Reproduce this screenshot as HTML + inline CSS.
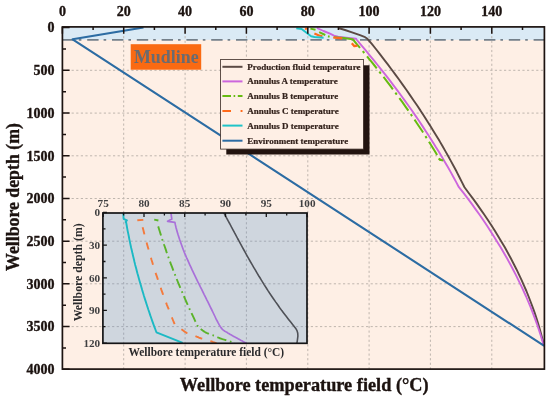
<!DOCTYPE html>
<html lang="en"><head><meta charset="utf-8"><title>Wellbore temperature field</title>
<style>
html,body{margin:0;padding:0;background:#fff;}
body{width:550px;height:398px;overflow:hidden;position:relative;}
svg text{font-family:"Liberation Serif","Times New Roman",serif;}
svg text.b{font-weight:bold;}
svg text.h{stroke-width:0.35px;stroke-linejoin:round;}
svg text.h2{stroke-width:0.2px;stroke-linejoin:round;}
</style></head><body>
<svg width="550" height="398" viewBox="0 0 550 398" style="display:block;position:absolute;left:0;top:0">
<defs><clipPath id="cm"><rect x="62.4" y="26.9" width="482.0" height="342.2"/></clipPath>
<clipPath id="ci"><rect x="102.9" y="213.0" width="204.1" height="130.3"/></clipPath></defs>
<rect width="550" height="398" fill="#ffffff"/>
<rect x="62.4" y="26.9" width="482.0" height="342.2" fill="#feefe5"/>
<rect x="62.4" y="26.9" width="482.0" height="12.9" fill="#daeaf5"/>
<path d="M123.7 26.9V369.2M185.1 26.9V369.2M246.4 26.9V369.2M307.8 26.9V369.2M369.1 26.9V369.2M430.4 26.9V369.2M491.8 26.9V369.2M62.4 70.3H544.4M62.4 113.1H544.4M62.4 155.8H544.4M62.4 198.5H544.4M62.4 241.2H544.4M62.4 283.8H544.4M62.4 326.6H544.4" fill="none" stroke="#bfb6ae" stroke-width="1" stroke-dasharray="2.2 2.4"/>
<path d="M62.4 39.9H544.4" fill="none" stroke="#74808a" stroke-width="1.7" stroke-dasharray="11.4 5 2.6 5.8"/>
<g clip-path="url(#cm)" fill="none" stroke-linejoin="round">
<polyline points="338.3,28.0 345.0,30.0 352.0,32.3 360.0,35.2 365.1,37.2 367.4,38.8 371.8,43.9 375.9,49.0 379.9,54.2 383.9,59.3 387.8,64.4 391.6,69.5 395.4,74.6 399.2,79.7 402.8,84.9 406.5,90.0 410.0,95.1 413.5,100.2 417.0,105.3 420.4,110.4 423.7,115.6 427.0,120.7 430.2,125.8 433.4,130.9 436.5,136.0 439.6,141.1 442.6,146.3 445.5,151.4 448.4,156.5 451.2,161.6 454.0,166.7 456.7,171.8 459.3,177.0 461.9,182.1 464.5,187.2 468.5,192.7 472.6,198.1 476.6,203.6 480.4,209.1 484.2,214.5 487.9,220.0 491.5,225.5 495.0,230.9 498.3,236.4 501.6,241.9 504.8,247.3 507.8,252.8 510.8,258.3 513.6,263.7 516.4,269.2 519.0,274.6 521.6,280.1 524.0,285.6 526.4,291.0 528.6,296.5 530.7,302.0 532.7,307.4 534.7,312.9 536.5,318.4 538.2,323.8 539.8,329.3 541.3,334.8 542.7,340.2 544.0,345.7" stroke="#5b4a44" stroke-width="1.9"/>
<polyline points="316.9,28.0 323.5,31.0 330.0,33.7 334.0,35.6 338.0,36.6 346.0,37.6 356.1,38.7 356.5,39.5 360.8,44.6 365.1,49.7 369.3,54.8 373.5,59.9 377.6,65.0 381.7,70.1 385.7,75.2 389.6,80.2 393.5,85.3 397.3,90.4 401.1,95.5 404.8,100.6 408.5,105.7 412.1,110.8 415.6,115.9 419.1,121.0 422.5,126.1 425.8,131.2 429.1,136.3 432.4,141.4 435.5,146.5 438.7,151.5 441.7,156.6 444.7,161.7 447.7,166.8 450.6,171.9 453.4,177.0 456.2,182.1 458.9,187.2 463.3,192.7 467.5,198.1 471.6,203.6 475.5,209.1 479.4,214.5 483.2,220.0 486.9,225.5 490.4,230.9 493.9,236.4 497.3,241.9 500.6,247.3 503.8,252.8 507.0,258.3 510.0,263.7 512.9,269.2 515.7,274.6 518.4,280.1 521.1,285.6 523.6,291.0 526.1,296.5 528.4,302.0 530.7,307.4 532.8,312.9 534.9,318.4 536.9,323.8 538.7,329.3 540.5,334.8 542.2,340.2 543.8,345.7" stroke="#cc66dd" stroke-width="1.9"/>
<polyline points="310.4,28.6 315.5,29.8" stroke="#66bb11" stroke-width="2.0"/>
<polyline points="319.2,32.2 325.3,35.0" stroke="#66bb11" stroke-width="2.0"/>
<polyline points="328.0,36.2 329.6,36.7" stroke="#66bb11" stroke-width="2.0"/>
<polyline points="334.0,37.2 344.0,38.0 352.3,39.2 354.0,40.2" stroke="#66bb11" stroke-width="2.0"/>
<polyline points="438.9,158.4 439.8,159.8 443.3,160.5" stroke="#66bb11" stroke-width="2.0"/>
<polyline points="354.0,40.0 354.2,41.0 357.6,45.1 361.1,49.2 364.5,53.2 367.8,57.3 371.2,61.4 374.5,65.5 377.7,69.6 380.9,73.7 384.1,77.7 387.3,81.8 390.4,85.9 393.4,90.0 396.4,94.1 399.4,98.2 402.4,102.2 405.3,106.3 408.2,110.4 411.0,114.5 413.8,118.6 416.6,122.7 419.3,126.7 422.0,130.8 424.6,134.9 427.3,139.0 429.8,143.1 432.4,147.2 434.9,151.2 437.3,155.3 439.8,159.4 443.2,160.4" stroke="#66bb11" stroke-width="2.0" stroke-dasharray="15.5 4.2 2.4 4.3" stroke-dashoffset="5.4"/>
<polyline points="305.2,28.2 306.8,29.2" stroke="#ff6a1a" stroke-width="2.2"/>
<polyline points="314.4,33.5 318.5,35.2 322.4,36.3" stroke="#ff6a1a" stroke-width="2.2"/>
<polyline points="333.2,37.5 342.2,38.4" stroke="#ff6a1a" stroke-width="2.2"/>
<polyline points="351.8,43.2 354.4,46.2 357.4,45.7" stroke="#ff6a1a" stroke-width="2.2"/>
<polyline points="296.3,28.3 301.6,29.0 311.1,36.3 314.5,37.0 323.6,37.7" stroke="#1fc4c8" stroke-width="1.9"/>
<polyline points="143.5,27.5 72.6,39.3 544.2,345.9" stroke="#2c6ca3" stroke-width="2.1"/>
</g>
<path d="M62.4 26.9v6.8M93.1 26.9v3.2M123.7 26.9v6.8M154.4 26.9v3.2M185.1 26.9v6.8M215.8 26.9v3.2M246.4 26.9v6.8M277.1 26.9v3.2M307.8 26.9v6.8M338.4 26.9v3.2M369.1 26.9v6.8M399.8 26.9v3.2M430.4 26.9v6.8M461.1 26.9v3.2M491.8 26.9v6.8M522.5 26.9v3.2M62.4 27.6h7.2M62.4 49.0h3.6M62.4 70.3h7.2M62.4 91.7h3.6M62.4 113.1h7.2M62.4 134.4h3.6M62.4 155.8h7.2M62.4 177.1h3.6M62.4 198.5h7.2M62.4 219.8h3.6M62.4 241.2h7.2M62.4 262.5h3.6M62.4 283.8h7.2M62.4 305.2h3.6M62.4 326.6h7.2M62.4 347.9h3.6M62.4 369.2h7.2" fill="none" stroke="#1c1310" stroke-width="1.5"/>
<rect x="62.4" y="26.9" width="482.0" height="342.2" fill="none" stroke="#1c1310" stroke-width="1.7"/>
<rect x="130.7" y="44.2" width="70.5" height="25.5" fill="#fa6a12"/>
<text x="166.3" y="62.8" text-anchor="middle" font-size="17.9" fill="#6a6b70" class="b">Mudline</text>
<rect x="226.3" y="65.3" width="143.2" height="89.2" fill="#22130f"/>
<rect x="220.6" y="59.4" width="142.8" height="89.7" fill="#feefe5" stroke="#3a2a24" stroke-width="0.8"/>
<path d="M222.4 66.8H242.5" stroke="#5b4a44" stroke-width="2.0" fill="none"/>
<text x="247.3" y="69.8" font-size="9.0" fill="#33221c" stroke="#33221c" class="b h2">Production fluid temperature</text>
<path d="M222.4 81.4H242.5" stroke="#cc66dd" stroke-width="2.0" fill="none"/>
<text x="247.3" y="84.4" font-size="9.0" fill="#33221c" stroke="#33221c" class="b h2">Annulus A temperature</text>
<path d="M222.4 96.1H242.5" stroke="#66bb11" stroke-width="2.0" fill="none" stroke-dasharray="8.6 2.6 1.6 2.6"/>
<text x="247.3" y="99.1" font-size="9.0" fill="#33221c" stroke="#33221c" class="b h2">Annulus B temperature</text>
<path d="M222.4 110.9H242.5" stroke="#ff6a1a" stroke-width="2.0" fill="none" stroke-dasharray="8.6 9.6"/>
<text x="247.3" y="113.9" font-size="9.0" fill="#33221c" stroke="#33221c" class="b h2">Annulus C temperature</text>
<path d="M222.4 125.6H242.5" stroke="#1fc4c8" stroke-width="2.0" fill="none"/>
<text x="247.3" y="128.6" font-size="9.0" fill="#33221c" stroke="#33221c" class="b h2">Annulus D temperature</text>
<path d="M222.4 140.7H242.5" stroke="#2c6ca3" stroke-width="2.0" fill="none"/>
<text x="247.3" y="143.7" font-size="9.0" fill="#33221c" stroke="#33221c" class="b h2">Environment temperature</text>
<text x="62.4" y="15.5" text-anchor="middle" font-size="14" fill="#1c1310" stroke="#1c1310" class="b h">0</text>
<text x="123.7" y="15.5" text-anchor="middle" font-size="14" fill="#1c1310" stroke="#1c1310" class="b h">20</text>
<text x="185.1" y="15.5" text-anchor="middle" font-size="14" fill="#1c1310" stroke="#1c1310" class="b h">40</text>
<text x="246.4" y="15.5" text-anchor="middle" font-size="14" fill="#1c1310" stroke="#1c1310" class="b h">60</text>
<text x="307.8" y="15.5" text-anchor="middle" font-size="14" fill="#1c1310" stroke="#1c1310" class="b h">80</text>
<text x="369.1" y="15.5" text-anchor="middle" font-size="14" fill="#1c1310" stroke="#1c1310" class="b h">100</text>
<text x="430.4" y="15.5" text-anchor="middle" font-size="14" fill="#1c1310" stroke="#1c1310" class="b h">120</text>
<text x="491.8" y="15.5" text-anchor="middle" font-size="14" fill="#1c1310" stroke="#1c1310" class="b h">140</text>
<text x="54.6" y="32.4" text-anchor="end" font-size="14" fill="#1c1310" stroke="#1c1310" class="b h">0</text>
<text x="54.6" y="75.1" text-anchor="end" font-size="14" fill="#1c1310" stroke="#1c1310" class="b h">500</text>
<text x="54.6" y="117.9" text-anchor="end" font-size="14" fill="#1c1310" stroke="#1c1310" class="b h">1000</text>
<text x="54.6" y="160.6" text-anchor="end" font-size="14" fill="#1c1310" stroke="#1c1310" class="b h">1500</text>
<text x="54.6" y="203.3" text-anchor="end" font-size="14" fill="#1c1310" stroke="#1c1310" class="b h">2000</text>
<text x="54.6" y="246.0" text-anchor="end" font-size="14" fill="#1c1310" stroke="#1c1310" class="b h">2500</text>
<text x="54.6" y="288.6" text-anchor="end" font-size="14" fill="#1c1310" stroke="#1c1310" class="b h">3000</text>
<text x="54.6" y="331.4" text-anchor="end" font-size="14" fill="#1c1310" stroke="#1c1310" class="b h">3500</text>
<text x="54.6" y="374.1" text-anchor="end" font-size="14" fill="#1c1310" stroke="#1c1310" class="b h">4000</text>
<text x="304.2" y="390.6" text-anchor="middle" font-size="18.3" fill="#1c1310" stroke="#1c1310" class="b h">Wellbore temperature field (°C)</text>
<text transform="translate(19.3 197.0) rotate(-90)" text-anchor="middle" font-size="17.8" fill="#1c1310" stroke="#1c1310" class="b h">Wellbore depth (m)</text>
<rect x="102.9" y="213.0" width="204.1" height="130.3" fill="#cfd6de"/>
<path d="M123.7 213.0V343.3M185.1 213.0V343.3M246.4 213.0V343.3M102.9 241.2H307.0M102.9 283.8H307.0M102.9 326.6H307.0" fill="none" stroke="#a4aab4" stroke-width="1" stroke-dasharray="2.2 2.4"/>
<g clip-path="url(#ci)" fill="none" stroke-linejoin="round">
<polyline points="223.7,212.5 225.2,215.4 226.8,218.3 228.3,221.2 229.9,224.0 231.4,226.9 233.0,229.8 234.5,232.7 236.1,235.6 237.6,238.5 239.2,241.3 240.7,244.2 242.3,247.1 243.9,250.0 245.5,252.9 247.1,255.8 248.7,258.7 250.3,261.5 252.0,264.4 253.7,267.3 255.4,270.2 257.1,273.1 258.8,276.0 260.6,278.8 262.3,281.7 264.1,284.6 266.0,287.5 267.8,290.4 269.7,293.3 271.7,296.2 273.6,299.0 275.6,301.9 277.7,304.8 279.7,307.7 281.8,310.6 284.0,313.5 286.2,316.3 288.4,319.2 290.7,322.1 293.0,325.0 295.6,328.2 297.0,330.6 297.7,333.0 297.9,336.0 297.4,340.0 296.8,344.0" stroke="#4f5157" stroke-width="1.6"/>
<polyline points="170.9,212.5 171.8,219.1 167.6,221.3 174.9,222.4 174.9,222.4 175.4,224.9 176.0,227.4 176.7,229.9 177.4,232.4 178.1,234.8 178.9,237.3 179.7,239.8 180.6,242.3 181.5,244.8 182.4,247.3 183.3,249.8 184.3,252.3 185.4,254.8 186.4,257.3 187.5,259.7 188.6,262.2 189.7,264.7 190.9,267.2 192.0,269.7 193.2,272.2 194.4,274.7 195.6,277.2 196.8,279.7 198.0,282.2 199.3,284.6 200.5,287.1 201.8,289.6 203.0,292.1 204.2,294.6 205.5,297.1 206.7,299.6 208.0,302.1 209.2,304.6 210.4,307.1 211.6,309.5 212.8,312.0 214.0,314.5 215.2,317.0 216.3,319.5 216.7,320.2 217.3,321.2 217.9,322.4 218.7,323.8 219.4,325.1 220.2,326.4 221.0,327.6 221.8,328.6 222.5,329.4 223.3,330.1 224.0,330.6 224.8,331.2 225.6,331.6 226.4,332.1 227.3,332.6 228.2,333.2 229.2,333.8 230.3,334.5 231.5,335.1 232.6,335.8 233.8,336.4 235.0,337.1 236.2,337.7 237.3,338.3 238.4,338.9 239.6,339.6 240.7,340.2 241.9,340.8 243.0,341.4 243.9,341.9 244.8,342.4 245.5,342.8 246.0,343.1 246.4,343.3 246.6,343.4 246.8,343.5 246.8,343.5 246.9,343.5 246.9,343.6 247.0,343.6" stroke="#a970d9" stroke-width="1.7"/>
<polyline points="154.2,219.6 158.4,220.5" stroke="#5bb32a" stroke-width="1.9"/>
<polyline points="158.2,226.4 159.0,229.0 159.8,231.5 160.6,234.1 161.4,236.6 162.2,239.2 163.1,241.7 163.9,244.3 164.8,246.8 165.7,249.4 166.5,251.9 167.4,254.5 168.3,257.0 169.3,259.6 170.2,262.1 171.1,264.7 172.1,267.2 173.1,269.8 174.1,272.3 175.1,274.9 176.1,277.4 177.1,280.0 178.1,282.5 179.2,285.1 180.2,287.6 181.3,290.2 182.4,292.7 183.5,295.3 184.6,297.8 185.7,300.4 186.8,302.9 188.0,305.5 189.1,308.0 190.3,310.6 191.5,313.1 192.7,315.7 193.9,318.2 195.1,320.8 196.3,323.3 197.6,325.9 198.0,326.3 198.5,326.8 199.2,327.4 199.9,328.0 200.6,328.7 201.3,329.4 202.1,330.0 202.7,330.5 203.3,330.9 203.8,331.3 204.3,331.7 204.9,332.0 205.4,332.3 206.0,332.6 206.6,332.9 207.3,333.2 208.1,333.5 208.9,333.9 209.8,334.2 210.8,334.5 211.7,334.9 212.7,335.2 213.6,335.6 214.5,335.9 215.3,336.2 216.2,336.6 217.0,336.9 217.8,337.3 218.5,337.6 219.3,338.0 220.1,338.3 220.9,338.6 221.7,338.9 222.5,339.1 223.3,339.4 224.2,339.6 225.0,339.8 225.8,340.1 226.5,340.3 227.3,340.5 228.0,340.7 228.8,341.0 229.5,341.2 230.3,341.5 230.9,341.7 231.6,341.9 232.2,342.1 232.7,342.3 233.2,342.4 233.5,342.6 233.9,342.7 234.2,342.8 234.4,342.8 234.7,342.9 234.8,343.0 235.0,343.0" stroke="#5bb32a" stroke-width="1.9" stroke-dasharray="9.5 3.8 1.6 3.7"/>
<polyline points="137.3,220.3 143.3,219.9" stroke="#f47a3c" stroke-width="1.9"/>
<polyline points="142.6,227.3 143.3,229.8 143.9,232.3 144.5,234.8 145.2,237.3 145.8,239.8 146.5,242.3 147.2,244.7 147.9,247.2 148.6,249.7 149.3,252.2 150.0,254.7 150.8,257.2 151.5,259.7 152.3,262.2 153.0,264.7 153.8,267.2 154.6,269.7 155.4,272.2 156.2,274.7 157.1,277.1 157.9,279.6 158.7,282.1 159.6,284.6 160.5,287.1 161.3,289.6 162.2,292.1 163.1,294.6 164.0,297.1 165.0,299.6 165.9,302.1 166.8,304.6 167.8,307.1 168.8,309.5 169.7,312.0 170.7,314.5 171.7,317.0 172.7,319.5 173.7,322.0 174.8,324.5 175.3,324.9 176.1,325.4 177.0,326.1 177.9,326.8 179.0,327.5 180.0,328.2 180.9,328.9 181.8,329.5 182.5,330.0 183.2,330.5 183.8,331.0 184.4,331.5 185.0,331.9 185.7,332.3 186.5,332.8 187.3,333.2 188.3,333.6 189.4,334.1 190.7,334.5 191.9,335.0 193.2,335.4 194.4,335.8 195.5,336.2 196.4,336.5 197.1,336.8 197.7,337.0 198.1,337.2 198.5,337.4 198.9,337.6 199.4,337.8 200.0,338.0 200.9,338.3 202.1,338.7 203.5,339.1 205.1,339.6 206.8,340.1 208.5,340.6 210.1,341.1 211.6,341.5 212.7,341.9 213.6,342.2 214.3,342.4 214.8,342.6 215.3,342.8 215.6,342.9 215.9,343.0 216.2,343.1 216.4,343.2" stroke="#f47a3c" stroke-width="1.9" stroke-dasharray="7.3 8.5"/>
<polyline points="123.3,212.5 123.6,218.8 126.9,220.3 125.6,222.0 126.2,222.7 126.7,225.5 127.2,228.3 127.7,231.1 128.3,233.9 128.9,236.8 129.4,239.6 130.0,242.4 130.6,245.2 131.2,248.0 131.9,250.8 132.5,253.6 133.2,256.4 133.9,259.2 134.5,262.0 135.2,264.9 136.0,267.7 136.7,270.5 137.4,273.3 138.2,276.1 139.0,278.9 139.8,281.7 140.6,284.5 141.4,287.3 142.2,290.1 143.1,293.0 143.9,295.8 144.8,298.6 145.7,301.4 146.6,304.2 147.5,307.0 148.4,309.8 149.4,312.6 150.3,315.4 151.3,318.2 152.3,321.1 153.3,323.9 154.3,326.7 155.4,329.5 156.4,332.3 182.7,342.8" stroke="#1cb9c4" stroke-width="1.9"/>
</g>
<path d="M103.2 213.0v4.0M123.6 213.0v2.6M144.0 213.0v4.0M164.4 213.0v2.6M184.7 213.0v4.0M205.1 213.0v2.6M225.5 213.0v4.0M245.9 213.0v2.6M266.3 213.0v4.0M286.7 213.0v2.6M307.1 213.0v4.0M102.9 212.5h4.0M102.9 228.8h2.6M102.9 245.1h4.0M102.9 261.5h2.6M102.9 277.8h4.0M102.9 294.1h2.6M102.9 310.4h4.0M102.9 326.7h2.6M102.9 343.1h4.0" fill="none" stroke="#161616" stroke-width="1.3"/>
<rect x="102.9" y="213.0" width="204.1" height="130.3" fill="none" stroke="#141416" stroke-width="1.7"/>
<text x="103.2" y="207.1" text-anchor="middle" font-size="11.2" fill="#404042" class="b">75</text>
<text x="144.0" y="207.1" text-anchor="middle" font-size="11.2" fill="#404042" class="b">80</text>
<text x="184.7" y="207.1" text-anchor="middle" font-size="11.2" fill="#404042" class="b">85</text>
<text x="225.5" y="207.1" text-anchor="middle" font-size="11.2" fill="#404042" class="b">90</text>
<text x="266.3" y="207.1" text-anchor="middle" font-size="11.2" fill="#404042" class="b">95</text>
<text x="307.1" y="207.1" text-anchor="middle" font-size="11.2" fill="#404042" class="b">100</text>
<text x="100.2" y="216.3" text-anchor="end" font-size="11.2" fill="#404042" class="b">0</text>
<text x="100.2" y="248.9" text-anchor="end" font-size="11.2" fill="#404042" class="b">30</text>
<text x="100.2" y="281.6" text-anchor="end" font-size="11.2" fill="#404042" class="b">60</text>
<text x="100.2" y="314.2" text-anchor="end" font-size="11.2" fill="#404042" class="b">90</text>
<text x="100.2" y="346.9" text-anchor="end" font-size="11.2" fill="#404042" class="b">120</text>
<text x="206.3" y="356.3" text-anchor="middle" font-size="11.45" fill="#2a2a2c" class="b">Wellbore temperature field (°C)</text>
<text transform="translate(82 272.3) rotate(-90)" text-anchor="middle" font-size="11.8" fill="#2a2a2c" class="b">Wellbore depth (m)</text>
</svg>
</body></html>
